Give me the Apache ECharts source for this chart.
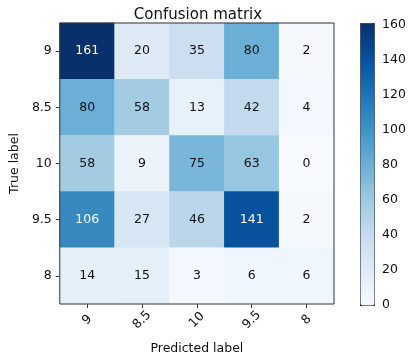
<!DOCTYPE html>
<html>
<head>
<meta charset="utf-8">
<script src="https://cdn.jsdelivr.net/npm/echarts@6/dist/echarts.min.js"></script>
<style>html,body{margin:0;padding:0;background:#fff;}#c{width:410px;height:363px;}</style>
</head>
<body>
<div id="c"></div>
<script>
var predictedLabels = ['9', '8.5', '10', '9.5', '8'];
var trueLabels = ['9', '8.5', '10', '9.5', '8'];
var row9 = [161, 20, 35, 80, 2];
var row85 = [80, 58, 13, 42, 4];
var row10 = [58, 9, 75, 63, 0];
var row95 = [106, 27, 46, 141, 2];
var row8 = [14, 15, 3, 6, 6];
var colorbarTicks = [0, 20, 40, 60, 80, 100, 120, 140, 160];
var blues = ['#f7fbff', '#deebf7', '#c6dbef', '#9ecae1', '#6baed6', '#4292c6', '#2171b5', '#08519c', '#08306b'];

var rows = [row9, row85, row10, row95, row8];
var vmax = 0;
rows.forEach(function (r) { r.forEach(function (v) { if (v > vmax) vmax = v; }); });
var thresh = vmax / 2;
var data = [];
rows.forEach(function (r, yi) {
  r.forEach(function (v, xi) {
    data.push({ value: [xi, yi, v], label: { color: v > thresh ? '#ffffff' : '#111111' } });
  });
});

var font = 'DejaVu Sans';
var fs = 12.5;
var chart = echarts.init(document.getElementById('c'), null, { renderer: 'canvas' });
chart.setOption({
  animation: false,
  backgroundColor: '#ffffff',
  title: {
    text: 'Confusion matrix', left: 193, top: 3, textAlign: 'center',
    textStyle: { fontFamily: font, fontSize: 15, fontWeight: 'normal', color: '#111' }
  },
  grid: [
    { left: 52, top: 23, width: 282, height: 281, show: true, borderColor: '#333', borderWidth: 1, backgroundColor: 'transparent', z: 3 },
    { left: 360, top: 23, width: 14, height: 282, show: false }
  ],
  xAxis: [
    {
      type: 'category', data: predictedLabels, gridIndex: 0,
      name: 'Predicted label', nameLocation: 'middle', nameGap: 38,
      nameTextStyle: { fontFamily: font, fontSize: fs, color: '#111' },
      axisLine: { show: false },
      axisTick: { show: true, alignWithLabel: true, length: 4, lineStyle: { color: '#333' } },
      axisLabel: { fontFamily: font, fontSize: fs, color: '#111', rotate: 45, align: 'center', verticalAlign: 'middle', margin: 16 },
      splitLine: { show: false }
    },
    { type: 'value', gridIndex: 1, show: false, min: 0, max: 1 }
  ],
  yAxis: [
    {
      type: 'category', data: trueLabels, gridIndex: 0, inverse: true,
      name: 'True label', nameLocation: 'middle', nameGap: 37,
      nameTextStyle: { fontFamily: font, fontSize: fs, color: '#111' },
      axisLine: { show: false },
      axisTick: { show: true, alignWithLabel: true, length: 4, lineStyle: { color: '#333' } },
      axisLabel: { fontFamily: font, fontSize: fs, color: '#111', margin: 8 },
      splitLine: { show: false }
    },
    {
      type: 'value', gridIndex: 1, position: 'right', min: 0, max: vmax,
      axisLine: { show: false },
      axisTick: { show: true, length: 4, customValues: colorbarTicks, lineStyle: { color: '#333' } },
      axisLabel: { fontFamily: font, fontSize: fs, color: '#111', margin: 8, customValues: colorbarTicks },
      splitLine: { show: false }
    }
  ],
  visualMap: {
    type: 'continuous', min: 0, max: vmax, seriesIndex: 0,
    orient: 'vertical', left: 360, top: 23, itemWidth: 14, itemHeight: 282,
    padding: 0, calculable: false, text: null,
    borderColor: '#333', borderWidth: 1,
    inRange: { color: blues }
  },
  series: [{
    type: 'heatmap', xAxisIndex: 0, yAxisIndex: 0, data: data,
    label: { show: true, fontFamily: font, fontSize: fs },
    emphasis: { disabled: true },
    itemStyle: { borderWidth: 0 }
  }]
});
</script>
</body>
</html>
